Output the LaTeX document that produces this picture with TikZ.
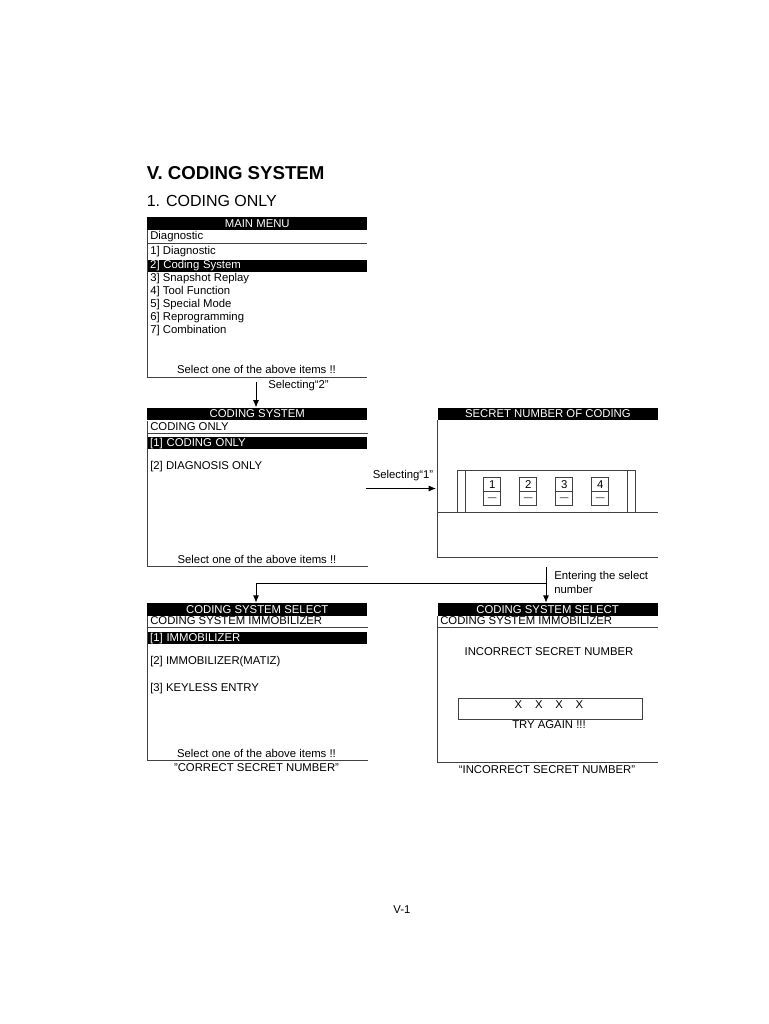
\documentclass[tikz,border=0pt]{standalone}
\usepackage{fontspec}
\setmainfont{Liberation Sans}
\usetikzlibrary{positioning,arrows.meta,calc}
\begin{document}
\begin{tikzpicture}[x=0.75pt,y=-0.75pt,
    scr/.style={font=\fontsize{8.5}{10}\selectfont, inner sep=0pt},
    txt/.style={scr, anchor=west},
    head/.style={scr, fill=black, text=white, anchor=north west, minimum width=165pt, minimum height=9.4pt},
    hilite/.style={scr, fill=black, text=white, anchor=north west, inner xsep=2.2pt, text width=160.5pt, align=left, minimum height=9.3pt},
    ln/.style={line width=0.7pt, black!75},
    arr/.style={line width=0.7pt, -{Latex[length=5.5pt,width=4.5pt]}}]
\useasboundingbox (0,0) rectangle (768,1024);
% titles
\node[anchor=west, inner sep=0pt, font=\fontsize{14}{16}\selectfont\bfseries] (title) at (146.5,173.5) {V. CODING SYSTEM};
\node[anchor=west, inner sep=0pt, font=\fontsize{12}{14}\selectfont] (subtitle) at (146.5,201) {1. CODING ONLY};
\node[scr] (page) at (402,910) {V-1};
% main menu
\node[head] (mm-head) at (147,216.8) {MAIN MENU};
\node[txt] (mm-sub) at (150,236.5) {Diagnostic};
\draw[ln] (147,243.5) -- (366.5,243.5);
\node[hilite] (mm-sel) at (147,259.3) {2] Coding System};
\foreach \yy/\txt [count=\i] in {251.5/1] Diagnostic, 278.5/3] Snapshot Replay, 291.5/4] Tool Function, 304.5/5] Special Mode, 317.5/6] Reprogramming, 330.5/7] Combination}
  \node[txt] (mm-item\i) at (150,\yy) {\txt};
\node[scr] (mm-foot) at (256.5,369.5) {Select one of the above items !!};
\draw[ln] (mm-head.south west) -- (147,377) -- (366.5,377);
\coordinate (mm-out) at (256,381.5);
% coding system
\node[head] (cs-head) at (147,407.5) {CODING SYSTEM};
\node[txt] (cs-sub) at (150,426.5) {CODING ONLY};
\draw[ln] (147,433) -- (367.5,433);
\node[hilite] (cs-sel) at (147,436.7) {[1] CODING ONLY};
\node[txt] (cs-item2) at (150,467) {[2] DIAGNOSIS ONLY};
\node[scr] (cs-foot) at (257,559.5) {Select one of the above items !!};
\draw[ln] (cs-head.south west) -- (147,566.5) -- (367.5,566.5);
\coordinate (cs-out) at (366,488.5);
% secret number of coding
\node[head, minimum width=165.5pt] (sn-head) at (437.3,407.3) {SECRET NUMBER OF CODING};
\draw[ln] (sn-head.south west) -- (437.3,557.7) -- (658,557.7);
\draw[ln] (437.3,512.3) -- (658,512.3);
\draw[ln] (457.7,512.3) -- (457.7,470) -- (635,470) -- (635,512.3);
\draw[ln] (465,470) -- (465,512.3);
\draw[ln] (627.7,470) -- (627.7,512.3);
\foreach \d in {1,...,4} {
  \node[draw, ln, anchor=north west, minimum width=12.75pt, minimum height=20.8pt, inner sep=0pt] (dig\d) at ({483.3+36*(\d-1)},477.3) {};
  \draw[ln] (dig\d.west) -- (dig\d.east);
  \node[scr] (dig\d-num) at ($(dig\d.north)!0.5!(dig\d.center)$) {\d};
  \node[scr, font=\fontsize{6.5}{8}\selectfont] (dig\d-dash) at ($(dig\d.south)!0.5!(dig\d.center)$) {—};
}
\coordinate (sn-in) at (436,488.5);
\coordinate (sn-out) at (546,567);
% coding system select (correct)
\node[head] (ok-head) at (147,602.7) {CODING SYSTEM SELECT};
\node[txt] (ok-sub) at (150,621) {CODING SYSTEM IMMOBILIZER};
\draw[ln] (147,627.7) -- (367.5,627.7);
\node[hilite] (ok-sel) at (147,631.7) {[1] IMMOBILIZER};
\node[txt] (ok-item2) at (150,662) {[2] IMMOBILIZER(MATIZ)};
\node[txt] (ok-item3) at (150,689) {[3] KEYLESS ENTRY};
\node[scr] (ok-foot) at (256.5,753.5) {Select one of the above items !!};
\draw[ln] (ok-head.south west) -- (147,760) -- (367.5,760);
\node[scr] (ok-note) at (256.5,767.5) {"CORRECT SECRET NUMBER"};
% coding system select (incorrect)
\node[head] (bad-head) at (437.3,602.7) {CODING SYSTEM SELECT};
\node[txt] (bad-sub) at (440,621) {CODING SYSTEM IMMOBILIZER};
\draw[ln] (437.3,627.7) -- (658,627.7);
\node[scr] (bad-msg) at (549,651.5) {INCORRECT SECRET NUMBER};
\node[draw, ln, anchor=north west, minimum width=137.5pt, minimum height=16pt, inner sep=0pt] (bad-code) at (458.3,697.7) {};
\foreach \i in {0,...,3}
  \node[scr] (bad-x\i) at ({518.5+20.3*\i},704.5) {X};
\node[scr] (bad-try) at (549,724.5) {TRY AGAIN !!!};
\draw[ln] (bad-head.south west) -- (437.3,762) -- (658,762);
\node[scr] (bad-note) at (547,769.5) {“INCORRECT SECRET NUMBER”};
% connectors
\draw[arr] (mm-out) -- (mm-out |- cs-head.north);
\node[txt] (lbl2) at (268,385.5) {Selecting“2”};
\draw[arr] (cs-out) -- (sn-in);
\node[txt] (lbl1) at (372.5,476) {Selecting“1”};
\draw[arr] (sn-out) -- (sn-out |- bad-head.north);
\coordinate (split) at (546,583);
\draw[arr] (split) -- (256,583) -- (256,0 |- ok-head.north);
\node[txt, align=left] (lbl3) at (554,582) {Entering the select\\[0.5pt]number};
\end{tikzpicture}
\end{document}
